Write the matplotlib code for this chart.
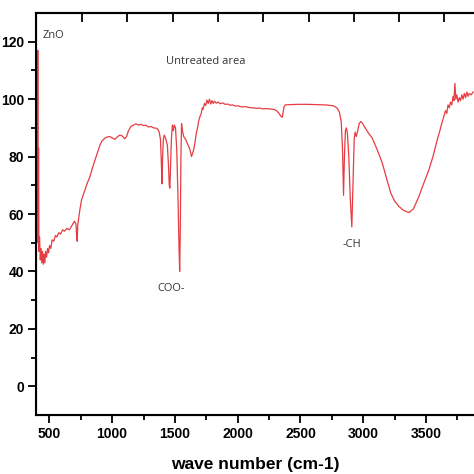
import numpy as np
import matplotlib.pyplot as plt

# FTIR spectrum values
wavenumber = [402, 405, 408, 411, 414, 417, 422, 428, 434, 440, 446, 452, 458, 464, 470,
              478, 486, 494, 502, 512, 522, 535, 548, 560, 575, 590, 605, 620, 640, 660,
              680, 700, 712, 718, 722, 726, 732, 745, 757, 780, 800, 823, 850, 880, 903,
              920, 942, 960, 982, 1000, 1022, 1040, 1061, 1080, 1101, 1115, 1130, 1150,
              1170, 1190, 1210, 1230, 1250, 1270, 1290, 1310, 1330, 1350, 1365, 1375,
              1385, 1392, 1397, 1402, 1408, 1415, 1425, 1440, 1450, 1455, 1460, 1465,
              1472, 1480, 1488, 1495, 1505, 1515, 1525, 1533, 1538, 1543, 1548, 1553,
              1560, 1570, 1585, 1600, 1615, 1625, 1632, 1640, 1650, 1660, 1670, 1680,
              1690, 1700, 1710, 1718, 1725, 1735, 1745, 1755, 1765, 1775, 1785, 1795,
              1805, 1815, 1830, 1845, 1860, 1880, 1900, 1920, 1940, 1960, 1980, 2000,
              2030, 2060, 2090, 2120, 2150, 2175, 2200, 2230, 2260, 2290, 2310, 2330,
              2345, 2355, 2362, 2370, 2380, 2420, 2480, 2550, 2620, 2700, 2760, 2790,
              2810, 2825, 2835, 2843, 2850, 2858, 2866, 2874, 2885, 2897, 2909, 2918,
              2928, 2935, 2945, 2955, 2968, 2980, 2995, 3015, 3040, 3072, 3110, 3152,
              3185, 3219, 3250, 3285, 3320, 3364, 3400, 3443, 3480, 3523, 3555, 3589,
              3610, 3625, 3642, 3655, 3665, 3675, 3685, 3695, 3705, 3715, 3722, 3730,
              3737, 3745, 3755, 3765, 3775, 3785, 3795, 3805, 3815, 3825, 3835, 3845,
              3860, 3875]
transmittance = [83, 60, 117, 50, 83, 47, 52, 44, 48, 43, 47, 42.5, 46, 43, 47,
                 45, 48, 46.5, 49, 48, 51, 50.5, 52.5, 52, 53.5, 53, 54.5, 54, 55, 54.5,
                 56, 57.5, 56.5, 52, 50.5, 56, 58, 62, 65, 68, 70.5, 73, 77, 81, 84,
                 85.5, 86.4, 86.8, 87, 86.5, 86, 86.8, 87.5, 87.2, 86.2, 87, 89, 90.5,
                 91, 91.4, 91, 91.2, 90.8, 90.9, 90.3, 90.5, 90, 89.9, 89.5, 88.5,
                 86, 78, 70.5, 80, 86, 87.5, 86.5, 84, 76, 70, 69, 76,
                 86, 91, 89, 91, 90, 82, 65, 48, 40, 55, 80, 91.5,
                 89, 87, 86, 84.5, 83, 81.5, 80, 81, 82.5, 85, 88, 90,
                 92.5, 94, 95, 97, 96.5, 98.5, 97.8, 99.7, 98.5, 100, 98.3, 99.5,
                 98.5, 99.3, 98.6, 99, 98.4, 98.7, 98.2, 98.3, 97.9, 98, 97.6, 97.7,
                 97.3, 97.4, 97.1, 97.0, 96.8, 96.9, 96.6, 96.7, 96.6, 96.4, 96, 95,
                 94, 93.7, 95.5, 97.5, 98, 98.1, 98.2, 98.2, 98.1, 98, 97.7, 97,
                 95.5, 92, 82, 66.5, 80, 89, 90, 88, 80, 65, 55.5, 70,
                 86, 88.5, 87, 89, 91.5, 92.2, 91.5, 90, 88.3, 86.4, 82.5, 77.7,
                 72.5, 67.3, 64.5, 62.6, 61.3, 60.5, 61.8, 66.1, 70.5, 75.4, 80, 85.8,
                 89, 91.5, 94, 96, 95, 98, 97, 99, 98, 101, 99.5, 105.5,
                 100, 101.5, 99, 100.5, 99.5, 101.5, 100, 102, 100.5, 102.5, 101, 102,
                 101.5, 102.5]

top_ticks = [760, 1119, 1485, 1844, 2202, 2568, 2926, 3285, 3643]

plt.rcParams['font.family'] = ['Liberation Sans', 'DejaVu Sans']

fig = plt.figure(figsize=(4.74, 4.74), dpi=100)
ax = fig.add_axes([0.076, 0.1245, 0.924, 0.848])

ax.plot(wavenumber, transmittance, color='#e63c42', lw=0.9)

ax.set_xlim(394, 3882)
ax.set_ylim(-10, 130)
ax.set_xticks([500, 1000, 1500, 2000, 2500, 3000, 3500])
ax.set_xticks(np.arange(750, 3800, 500), minor=True)
ax.set_yticks([0, 20, 40, 60, 80, 100, 120])
ax.set_yticks(np.arange(10, 130, 20), minor=True)
ax.tick_params(which='major', direction='out', length=6, width=1.3, labelsize=10, pad=2.5)
ax.tick_params(which='minor', direction='out', length=3.5, width=1.3)
for lab in ax.get_xticklabels() + ax.get_yticklabels():
    lab.set_fontweight('bold')

for s in ['left', 'bottom', 'top']:
    ax.spines[s].set_linewidth(1.5)
ax.spines['right'].set_visible(False)

# unlabeled ticks along the top edge
top = ax.twiny()
top.set_xlim(ax.get_xlim())
top.set_xticks(top_ticks)
top.set_xticklabels([])
top.tick_params(direction='in', length=6.5, width=1.3)
top.spines['right'].set_visible(False)
top.spines['top'].set_linewidth(1.5)

ax.set_xlabel('wave number (cm-1)', fontsize=12.5, fontweight='bold', labelpad=12)

ann = dict(family=['Open Sans', 'DejaVu Sans'], fontsize=8, color='#333333')
ax.text(450, 122.3, 'ZnO', ha='left', va='center', **ann)
ax.text(1429, 113, 'Untreated area', ha='left', va='center', **ann)
ax.text(1469, 34, 'COO-', ha='center', va='center', **ann)
ax.text(2910, 49.3, '-CH', ha='center', va='center', **ann)

fig.savefig('out.png', dpi=100)
